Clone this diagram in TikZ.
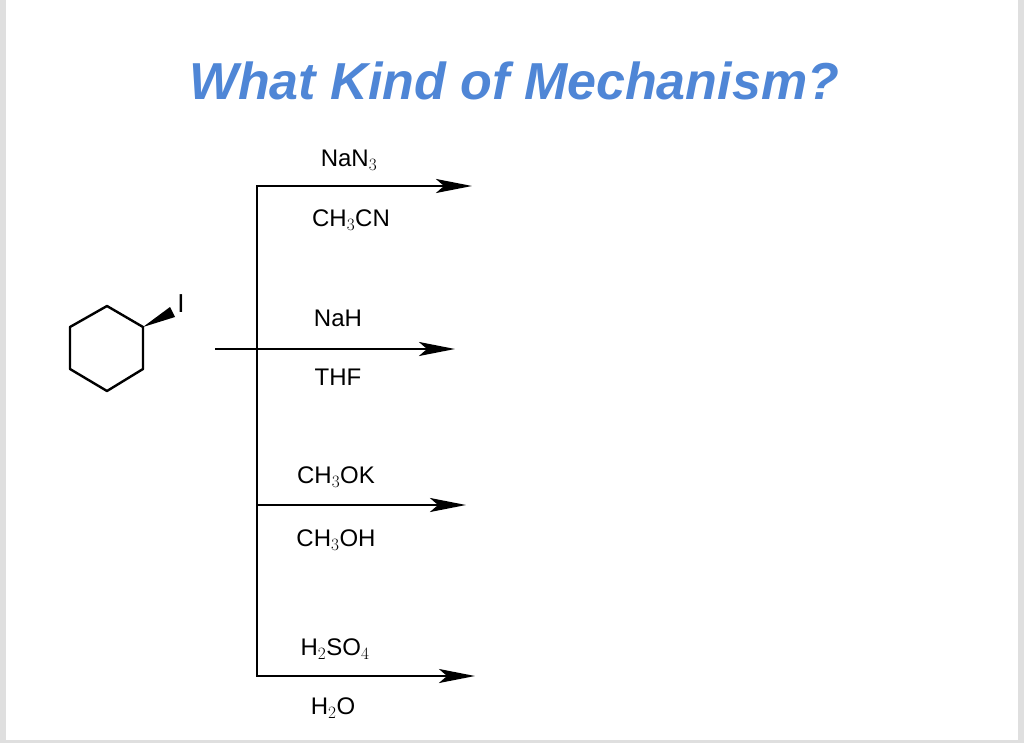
\documentclass[tikz,border=0pt]{standalone}
\usepackage{fontspec}
\setmainfont{Liberation Sans}
\usetikzlibrary{arrows.meta}
\definecolor{ttl}{HTML}{4F86D6}
\begin{document}
\begin{tikzpicture}[x=1pt,y=-1pt,
  bond/.style={line width=2.4pt,line join=round},
  rxn/.style={line width=2.4pt,-{Stealth[length=36pt,width=14pt,inset=8pt]}},
  lab/.style={font=\fontsize{24}{28}\selectfont,inner sep=0pt}]
\useasboundingbox (0,0) rectangle (1024,743);
\fill[gray!25] (0,0) rectangle (1024,743);
\fill[white] (6,0) rectangle (1018,740);
\node[font=\fontsize{52}{60}\selectfont\bfseries\itshape,text=ttl] (title) at (514,81) {What Kind of Mechanism?};
% cyclohexane
\coordinate (r1) at (107,306); \coordinate (r2) at (143,327); \coordinate (r3) at (143,369);
\coordinate (r4) at (107,391); \coordinate (r5) at (70,369); \coordinate (r6) at (70,327);
\draw[bond] (r1)--(r2)--(r3)--(r4)--(r5)--(r6)--cycle;
\fill (r2) -- (170,307) -- (175,317) -- cycle;
\node[lab,font=\fontsize{26}{30}\selectfont] (I) at (181,304) {I};
% frame
\coordinate (vt) at (257,186); \coordinate (vb) at (257,676);
\coordinate (s0) at (215,349);
\coordinate (e1) at (472,186); \coordinate (e2) at (455,349);
\coordinate (e3) at (466,505); \coordinate (e4) at (475,676);
\coordinate (v3) at (257,505);
\draw[bond,line cap=rect] (vt)--(vb);
\draw[rxn] (vt)--(e1);
\draw[rxn] (s0)--(e2);
\draw[rxn] (v3)--(e3);
\draw[rxn] (vb)--(e4);
\node[lab] (a1) at (349,160) {NaN$_3$};
\node[lab] (b1) at (351,220) {CH$_3$CN};
\node[lab] (a2) at (338,318) {NaH};
\node[lab] (b2) at (338,377) {THF};
\node[lab] (a3) at (336,477) {CH$_3$OK};
\node[lab] (b3) at (336,540) {CH$_3$OH};
\node[lab] (a4) at (335,649) {H$_2$SO$_4$};
\node[lab] (b4) at (333,708) {H$_2$O};
\end{tikzpicture}
\end{document}
